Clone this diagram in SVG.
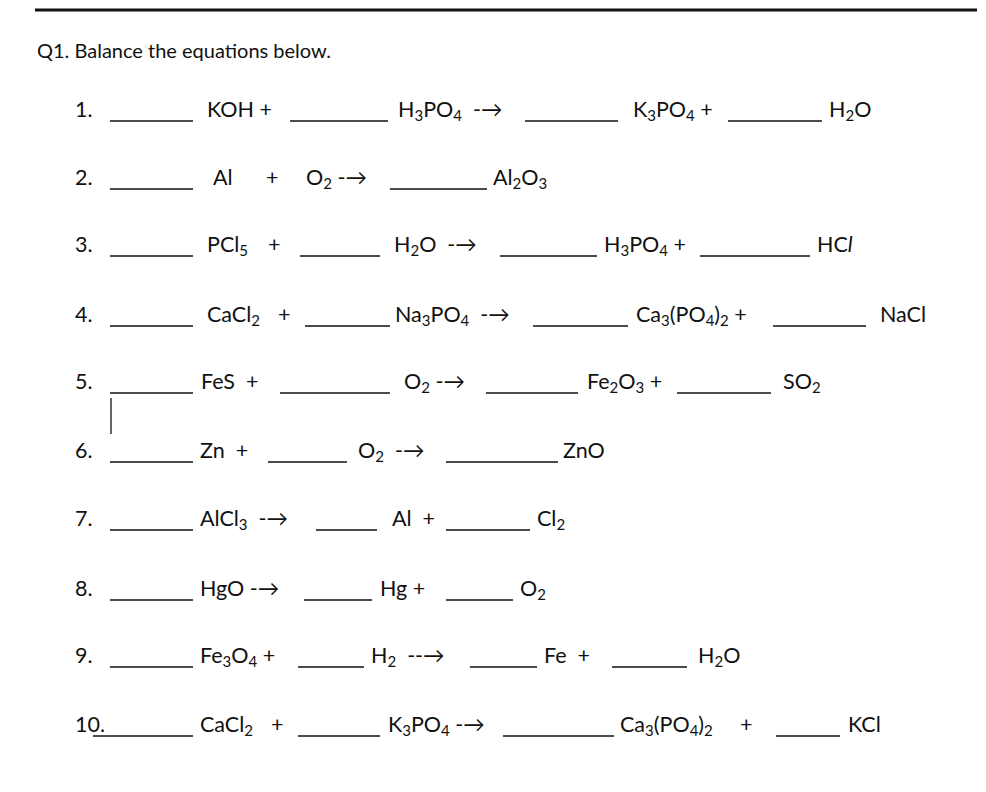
<svg xmlns="http://www.w3.org/2000/svg" width="986" height="792" viewBox="0 0 986 792">
<style>
text{font-family:Lato,"Open Sans","Liberation Sans",sans-serif;font-size:21.5px;fill:#111;white-space:pre}
.s{font-size:15px}
line{stroke:#111;stroke-width:1.3}
</style>
<rect width="986" height="792" fill="#fff"/>
<line x1="35" y1="10" x2="977" y2="10" style="stroke-width:3"/>
<text x="37" y="58" style="font-size:20px">Q1. Balance the equations below.</text>
<g id="row1">
<text x="75" y="117">1.</text>
<line x1="110" y1="121" x2="193" y2="121"/><text x="207" y="117">KOH +</text>
<line x1="290" y1="121" x2="388" y2="121"/><text x="398" y="117">H<tspan class="s" baseline-shift="-4">3</tspan>PO<tspan class="s" baseline-shift="-4">4</tspan>  -→</text>
<line x1="525" y1="121" x2="618" y2="121"/><text x="633" y="117">K<tspan class="s" baseline-shift="-4">3</tspan>PO<tspan class="s" baseline-shift="-4">4</tspan> +</text>
<line x1="728" y1="121" x2="822" y2="121"/><text x="829" y="117">H<tspan class="s" baseline-shift="-4">2</tspan>O</text>
</g>
<g id="row2">
<text x="75" y="185">2.</text>
<line x1="110" y1="189" x2="193" y2="189"/><text x="213" y="185">Al</text><text x="266" y="185">+</text>
<text x="306" y="185">O<tspan class="s" baseline-shift="-4">2</tspan> -→</text>
<line x1="390" y1="189" x2="487" y2="189"/><text x="493" y="185">Al<tspan class="s" baseline-shift="-4">2</tspan>O<tspan class="s" baseline-shift="-4">3</tspan></text>
</g>
<g id="row3">
<text x="75" y="252">3.</text>
<line x1="110" y1="256" x2="193" y2="256"/><text x="207" y="252">PCl<tspan class="s" baseline-shift="-4">5</tspan></text><text x="268" y="252">+</text>
<line x1="300" y1="256" x2="380" y2="256"/><text x="394" y="252">H<tspan class="s" baseline-shift="-4">2</tspan>O  -→</text>
<line x1="500" y1="256" x2="597" y2="256"/><text x="604" y="252">H<tspan class="s" baseline-shift="-4">3</tspan>PO<tspan class="s" baseline-shift="-4">4</tspan> +</text>
<line x1="700" y1="256" x2="810" y2="256"/><text x="817" y="252">HC<tspan font-style="italic">l</tspan></text>
</g>
<g id="row4">
<text x="75" y="322">4.</text>
<line x1="110" y1="326" x2="193" y2="326"/><text x="207" y="322">CaCl<tspan class="s" baseline-shift="-4">2</tspan></text><text x="278" y="322">+</text>
<line x1="305" y1="326" x2="390" y2="326"/><text x="395" y="322">Na<tspan class="s" baseline-shift="-4">3</tspan>PO<tspan class="s" baseline-shift="-4">4</tspan>  -→</text>
<line x1="533" y1="326" x2="628" y2="326"/><text x="636" y="322">Ca<tspan class="s" baseline-shift="-4">3</tspan>(PO<tspan class="s" baseline-shift="-4">4</tspan>)<tspan class="s" baseline-shift="-4">2</tspan> +</text>
<line x1="773" y1="326" x2="866" y2="326"/><text x="880" y="322">NaCl</text>
</g>
<g id="row5">
<text x="75" y="389">5.</text>
<line x1="110" y1="393" x2="193" y2="393"/><text x="201" y="389">FeS  +</text>
<line x1="280" y1="393" x2="390" y2="393"/><text x="404" y="389">O<tspan class="s" baseline-shift="-4">2</tspan> -→</text>
<line x1="486" y1="393" x2="578" y2="393"/><text x="587" y="389">Fe<tspan class="s" baseline-shift="-4">2</tspan>O<tspan class="s" baseline-shift="-4">3</tspan> +</text>
<line x1="677" y1="393" x2="771" y2="393"/><text x="783" y="389">SO<tspan class="s" baseline-shift="-4">2</tspan></text>
<line x1="111" y1="398" x2="111" y2="434"/>
</g>
<g id="row6">
<text x="75" y="458">6.</text>
<line x1="110" y1="462" x2="193" y2="462"/><text x="200" y="458">Zn  +</text>
<line x1="268" y1="462" x2="347" y2="462"/><text x="358" y="458">O<tspan class="s" baseline-shift="-4">2</tspan>  -→</text>
<line x1="446" y1="462" x2="558" y2="462"/><text x="563" y="458">ZnO</text>
</g>
<g id="row7">
<text x="75" y="526">7.</text>
<line x1="110" y1="530" x2="193" y2="530"/><text x="200" y="526">AlCl<tspan class="s" baseline-shift="-4">3</tspan>  -→</text>
<line x1="316" y1="530" x2="377" y2="530"/><text x="392" y="526">Al  +</text>
<line x1="446" y1="530" x2="530" y2="530"/><text x="537" y="526">Cl<tspan class="s" baseline-shift="-4">2</tspan></text>
</g>
<g id="row8">
<text x="75" y="596">8.</text>
<line x1="110" y1="600" x2="193" y2="600"/><text x="200" y="596">HgO -→</text>
<line x1="304" y1="600" x2="372" y2="600"/><text x="380" y="596">Hg +</text>
<line x1="446" y1="600" x2="513" y2="600"/><text x="520" y="596">O<tspan class="s" baseline-shift="-4">2</tspan></text>
</g>
<g id="row9">
<text x="75" y="663">9.</text>
<line x1="110" y1="667" x2="193" y2="667"/><text x="200" y="663">Fe<tspan class="s" baseline-shift="-4">3</tspan>O<tspan class="s" baseline-shift="-4">4</tspan> +</text>
<line x1="298" y1="667" x2="364" y2="667"/><text x="371" y="663">H<tspan class="s" baseline-shift="-4">2</tspan>  --→</text>
<line x1="470" y1="667" x2="537" y2="667"/><text x="544" y="663">Fe  +</text>
<line x1="612" y1="667" x2="687" y2="667"/><text x="698" y="663">H<tspan class="s" baseline-shift="-4">2</tspan>O</text>
</g>
<g id="row10">
<text x="75" y="732">10.</text>
<line x1="93" y1="736" x2="193" y2="736"/><text x="200" y="732">CaCl<tspan class="s" baseline-shift="-4">2</tspan></text><text x="271" y="732">+</text>
<line x1="298" y1="736" x2="380" y2="736"/><text x="388" y="732">K<tspan class="s" baseline-shift="-4">3</tspan>PO<tspan class="s" baseline-shift="-4">4</tspan> -→</text>
<line x1="503" y1="736" x2="614" y2="736"/><text x="620" y="732">Ca<tspan class="s" baseline-shift="-4">3</tspan>(PO<tspan class="s" baseline-shift="-4">4</tspan>)<tspan class="s" baseline-shift="-4">2</tspan></text><text x="740" y="732">+</text>
<line x1="776" y1="736" x2="840" y2="736"/><text x="848" y="732">KCl</text>
</g>
</svg>
